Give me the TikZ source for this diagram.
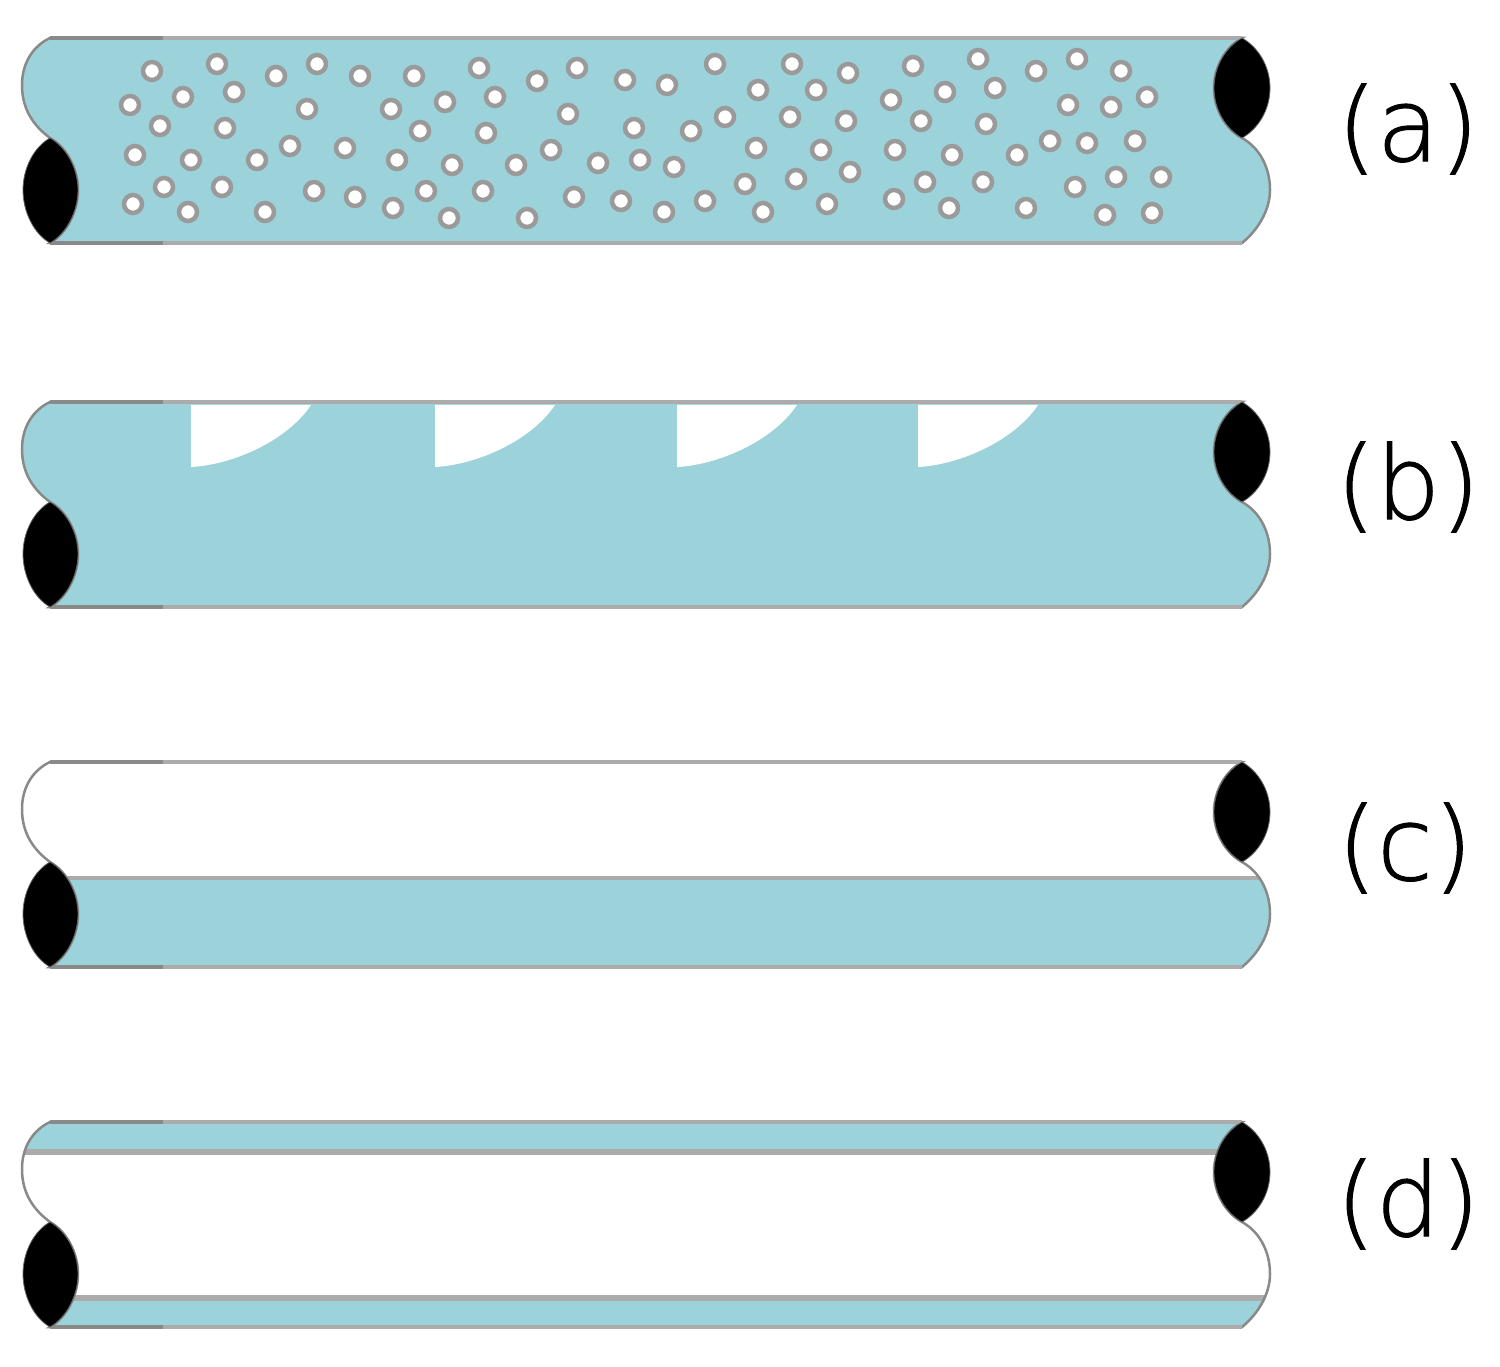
\documentclass[tikz,border=0pt]{standalone}
\usepackage{fontspec}
\setmainfont[FakeBold=1]{DejaVu Sans ExtraLight}

% tube seen from the side, top edge at y=0
\newcommand{\tubepath}{(50,0) -- (1242,0)
  .. controls (1226,9) and (1214,28) .. (1214,50)
  .. controls (1214,72) and (1226,91) .. (1242,100)
  .. controls (1260,110) and (1270,130) .. (1270,152)
  .. controls (1270,172) and (1258,192) .. (1242,205)
  -- (50,205)
  .. controls (66,196) and (78,174) .. (78,152)
  .. controls (78,130) and (66,109) .. (50,100)
  .. controls (34,88) and (22,72) .. (22,47)
  .. controls (22,25) and (33,8) .. (50,0) -- cycle}
\newcommand{\holeleft}{(50,100)
  .. controls (66,109) and (78,130) .. (78,152)
  .. controls (78,174) and (66,196) .. (50,205)
  .. controls (34,196) and (23,174) .. (23,152)
  .. controls (23,130) and (34,109) .. (50,100) -- cycle}
\newcommand{\holeright}{(1242,0)
  .. controls (1258,9) and (1270,28) .. (1270,50)
  .. controls (1270,72) and (1258,91) .. (1242,100)
  .. controls (1226,91) and (1214,72) .. (1214,50)
  .. controls (1214,28) and (1226,9) .. (1242,0) -- cycle}
\newcommand{\tubeends}{%
  \draw[outline] \tubepath;
  \draw[edge] (50,0) -- (1242,0);
  \draw[edge] (50,205) -- (1242,205);
  \draw[edge, darkedge] (50,0) -- (163,0);
  \draw[edge, darkedge] (50,205) -- (163,205);
  \fill[hole] \holeleft;
  \fill[hole] \holeright;}

\definecolor{liquid}{HTML}{9CD2DA}
\definecolor{wall}{HTML}{ABABAB}

\begin{document}
\begin{tikzpicture}[
      x=0.01cm, y=-0.01cm,
      outline/.style={draw=wall!80!black, line width=0.025cm},
      edge/.style={draw=wall, line width=0.04cm},
      darkedge/.style={draw=wall!80!black},
      film/.style={draw=wall, line width=0.055cm},
      hole/.style={fill=black, draw=black!60, line width=0.008cm},
      bubble/.style={fill=white, draw=wall!90!black, line width=0.045cm},
      panel/.style={font=\fontsize{29}{32}\selectfont, anchor=center}
    ]
      \useasboundingbox (0,0) rectangle (1500,1367);

      % Panel a: dispersed bubbles
      \begin{scope}[shift={(0,38)}]
        \fill[liquid] \tubepath;
        \tubeends
      \end{scope}
      \foreach \bx/\by in {152/71,217/64,276/76,317/64,360/76,414/76,479/68,537/81,577/68,625/80,667/85,715/64,792/64,848/73,913/66,978/59,1036/71,1077/59,1121/71,
        130/105,183/97,234/92,307/109,391/109,445/102,495/97,758/90,816/90,891/100,945/92,995/88,1068/105,1111/107,1147/97,
        160/126,225/128,420/131,486/133,568/114,634/128,691/131,725/117,790/117,846/121,921/121,986/124,
        135/155,191/160,257/160,290/146,345/148,397/160,452/165,516/165,551/150,598/163,640/160,674/167,756/148,821/150,895/150,952/155,1017/155,1050/141,1087/143,1135/141,
        164/187,222/187,314/191,355/197,426/191,483/191,574/197,745/184,796/179,850/172,925/182,983/182,1075/187,1116/177,1161/177,
        133/204,188/212,265/212,393/208,449/218,527/218,621/201,664/212,705/201,763/212,827/204,894/199,949/208,1026/208,1105/215,1152/213}
        \draw[bubble] (\bx,\by) circle [radius=9];
      \node[panel] (label_a) at (1408,129) {(a)};

      % Panel b: wedges of gas along the top wall
      \begin{scope}[shift={(0,402)}]
        \fill[liquid] \tubepath;
        \foreach \wx in {191,435,677,918}
          \fill[white] (\wx,3) -- (\wx,65) .. controls (\wx+40,63) and (\wx+95,40) .. (\wx+120,3) -- cycle;
        \tubeends
      \end{scope}
      \node[panel] (label_b) at (1408,487) {(b)};

      % Panel c: liquid in the lower part
      \begin{scope}[shift={(0,762)}]
        \begin{scope}
          \clip \tubepath;
          \fill[liquid] (0,116) rectangle (1300,206);
          \draw[edge] (0,116) -- (1300,116);
        \end{scope}
        \tubeends
      \end{scope}
      \node[panel] (label_c) at (1405,848) {(c)};

      % Panel d: liquid film on both walls
      \begin{scope}[shift={(0,1122)}]
        \begin{scope}
          \clip \tubepath;
          \fill[liquid] (0,0) rectangle (1300,30);
          \fill[liquid] (0,176) rectangle (1300,206);
          \draw[film] (0,30) -- (1300,30);
          \draw[film] (0,176) -- (1300,176);
        \end{scope}
        \tubeends
      \end{scope}
      \node[panel] (label_d) at (1408,1204) {(d)};
    \end{tikzpicture}
\end{document}
